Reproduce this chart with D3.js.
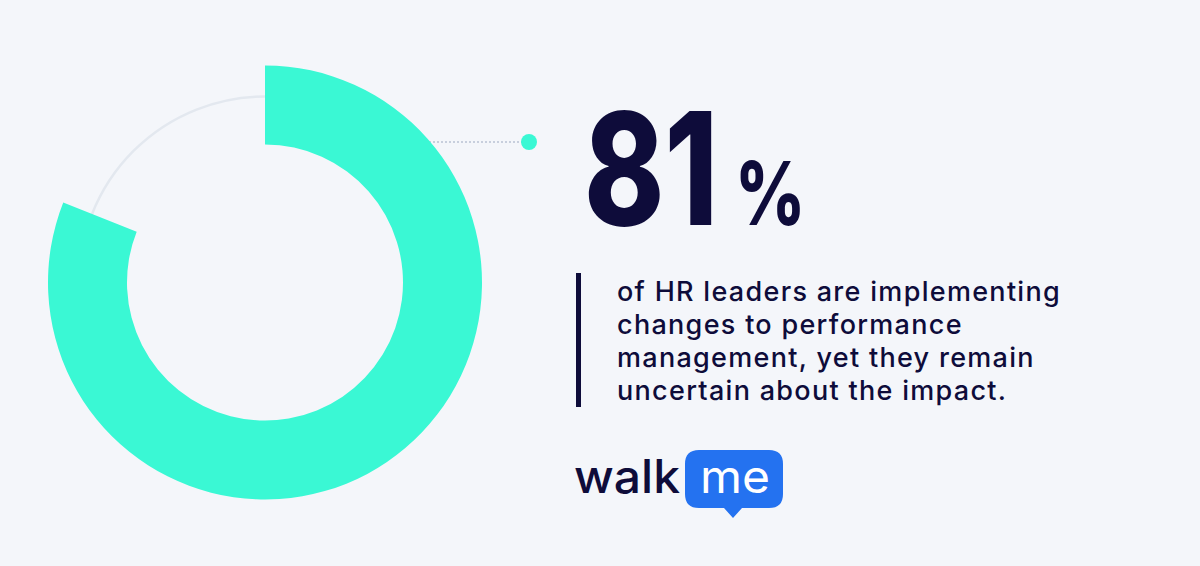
<!DOCTYPE html>
<html>
<head>
<meta charset="utf-8">
<script src="https://cdn.jsdelivr.net/npm/d3@7"></script>
<style>
	html, body { margin: 0; padding: 0; background: #f4f6fa; }
	svg { display: block; }
	text { font-family: Inter, "Open Sans", sans-serif; }
</style>
</head>
<body>
<div id="chart"></div>
<script>
(function() {
	var width = 1200,
		height = 566;

	// the one number this graphic is about
	var share = [81];
	var shareLabel = ["81", "%"];
	var bodyLines = [
		"of HR leaders are implementing",
		"changes to performance",
		"management, yet they remain",
		"uncertain about the impact."
	];
	var brand = ["walk", "me"];

	var teal = "#3af8d4",
		navy = "#0e0c3a",
		blue = "#2472f0";

	var svg = d3.select("#chart")
		.append("svg")
		.attr("width", width)
		.attr("height", height);

	svg.append("rect")
		.attr("width", width)
		.attr("height", height)
		.attr("fill", "#f4f6fa");

	var cx = 265, cy = 282.5;
	var donut = svg.append("g")
		.attr("transform", "translate(" + cx + "," + cy + ")");

	// dotted leader line out to the dot (drawn first so the ring covers it)
	var leaderY = 142 - cy;
	donut.append("line")
		.attr("x1", 0)
		.attr("x2", 529 - cx)
		.attr("y1", leaderY)
		.attr("y2", leaderY)
		.attr("stroke", "#b9c2d3")
		.attr("stroke-width", 1.5)
		.attr("stroke-dasharray", "2,2");

	donut.append("circle")
		.attr("cx", 529 - cx)
		.attr("cy", leaderY)
		.attr("r", 8)
		.attr("fill", teal);

	// thin track for the remaining part
	donut.append("circle")
		.attr("r", 186)
		.attr("fill", "none")
		.attr("stroke", "#e3e8ef")
		.attr("stroke-width", 2.5);

	var pie = d3.pie().sort(null).value(function(d) { return d; });
	var arc = d3.arc().innerRadius(138).outerRadius(217);

	donut.selectAll(".slice")
		.data(pie([share[0], 100 - share[0]]))
		.enter().append("path")
		.attr("class", "slice")
		.attr("d", arc)
		.attr("fill", function(d, i) { return i === 0 ? teal : "none"; });

	// big figure as one text, squeezed sideways to match the narrow geometric face
	var big = svg.append("text")
		.attr("fill", navy)
		.style("font-weight", 800);

	var num = big.append("tspan")
		.attr("x", 0)
		.style("font-size", "156px")
		.text(shareLabel[0]);

	var sx = 134 / num.node().getComputedTextLength();

	big.append("tspan")
		.attr("x", (735 - 584) / sx)
		.style("font-size", "88px")
		.text(shareLabel[1]);

	big.attr("transform", "translate(584,225) scale(" + sx + ",1)");

	// quote bar + body copy
	svg.append("rect")
		.attr("x", 576)
		.attr("y", 273)
		.attr("width", 5)
		.attr("height", 134)
		.attr("fill", navy);

	svg.selectAll(".line")
		.data(bodyLines)
		.enter().append("text")
		.attr("class", "line")
		.attr("x", 617)
		.attr("y", function(d, i) { return 301 + i * 33; })
		.attr("fill", navy)
		.style("font-size", "27px")
		.style("font-weight", 500)
		.style("letter-spacing", "1.3px")
		.text(function(d) { return d; });

	// logo
	var logo = svg.append("g");
	logo.append("text")
		.attr("x", 574)
		.attr("y", 493)
		.attr("fill", navy)
		.attr("textLength", 106)
		.attr("lengthAdjust", "spacingAndGlyphs")
		.style("font-size", "46px")
		.style("font-weight", 500)
		.text(brand[0]);

	logo.append("path")
		.attr("d", "M699,450 H769 Q783,450 783,464 V494 Q783,508 769,508 H742 L733,518 L724,508 H699 Q685,508 685,494 V464 Q685,450 699,450 Z")
		.attr("fill", blue);

	logo.append("text")
		.attr("x", 700)
		.attr("y", 493)
		.attr("fill", "#ffffff")
		.attr("textLength", 70)
		.attr("lengthAdjust", "spacingAndGlyphs")
		.style("font-size", "46px")
		.style("font-weight", 400)
		.text(brand[1]);
})();
</script>
</body>
</html>
